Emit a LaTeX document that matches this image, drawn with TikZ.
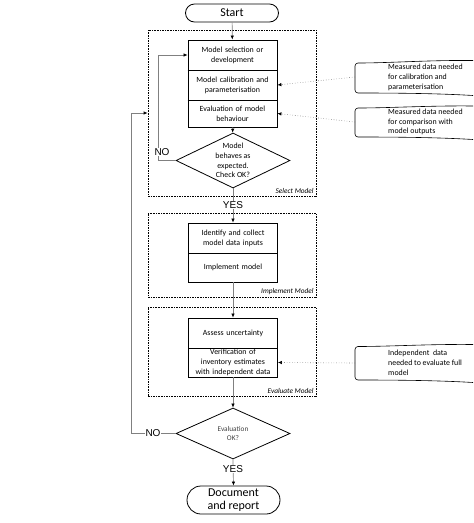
\documentclass[tikz,border=0pt]{standalone}
\usepackage{fontspec}
\setmainfont{Carlito}
\newfontfamily\arialf{Liberation Sans}
\usetikzlibrary{arrows.meta,shapes.geometric}
\begin{document}
\begin{tikzpicture}[x=1pt,y=-1pt,
  txt/.style={font=\fontsize{7.9}{9.8}\selectfont},
  proc/.style={draw, line width=0.8pt, minimum width=89pt, text width=86pt, align=center, inner sep=0pt, txt},
  term/.style={draw, line width=0.8pt, minimum width=93pt, align=center, inner sep=0pt, font=\fontsize{12}{13.5}\selectfont},
  group/.style={draw, line width=0.7pt, dash pattern=on 1.6pt off 1pt, minimum width=168pt, inner sep=0pt},
  grouplabel/.style={font=\fontsize{7.3}{8}\itshape, anchor=south east, inner sep=2.5pt},
  dia/.style={draw, line width=0.8pt, diamond, inner sep=0pt, minimum width=114pt, minimum height=52pt},
  flow/.style={draw=gray, line width=0.7pt, -{Latex[black,length=4pt,width=3.5pt]}},
  flowline/.style={draw=gray, line width=0.7pt},
  datal/.style={draw=gray, line width=0.6pt, dotted, -{Latex[black,length=4pt,width=3.5pt]}},
  yn/.style={font=\arialf\fontsize{10}{11}\selectfont, fill=white, inner sep=0.5pt},
  notebox/.style={draw, line width=0.6pt},
  notetxt/.style={txt, align=left, anchor=west, inner sep=0pt}
]
\useasboundingbox (0,0) rectangle (474,523);

% groups
\node[group, minimum height=166pt] (sel) at (232,113) {};
\node[grouplabel] (sellab) at (sel.south east) {Select Model};
\node[group, minimum height=84pt] (impl) at (232,255) {};
\node[grouplabel] (impllab) at (impl.south east) {Implement Model};
\node[group, minimum height=89pt] (eval) at (232,351.5) {};
\node[grouplabel] (evallab) at (eval.south east) {Evaluate Model};

% terminals
\node[term, minimum height=18pt, rounded corners=9pt] (start) at (232,13) {Start};
\node[term, minimum height=28pt, rounded corners=14pt] (doc) at (233.5,500) {Document\\and report};

% processes
\node[proc, minimum height=30pt] (b1) at (232.5,55) {Model selection or\\development};
\node[proc, minimum height=30pt] (b2) at (232.5,85) {Model calibration and\\parameterisation};
\node[proc, minimum height=27pt] (b3) at (232.5,113.5) {Evaluation of model\\behaviour};
\draw[line width=1.6pt] (b1.south west) -- (b1.south east);
\draw[line width=1.6pt] (b2.south west) -- (b2.south east);

\node[proc, minimum height=30pt] (id) at (233,238) {Identify and collect\\model data inputs};
\node[proc, minimum height=29pt] (im) at (233,267.5) {Implement model};
\draw[line width=1.6pt] (id.south west) -- (id.south east);

\node[proc, minimum height=30pt] (as) at (233,333) {Assess uncertainty};
\node[proc, minimum height=29pt] (ve) at (233,362.5) {Verification of\\inventory estimates\\with independent data};
\draw[line width=1.6pt] (as.south west) -- (as.south east);

% decisions
\node[dia, minimum height=55pt] (d1) at (233,160.5) {};
\node[txt, align=center, inner sep=0pt] (d1t) at (d1.center) {Model\\behaves as\\expected.\\Check OK?};
\node[dia, minimum height=51pt] (d2) at (233,433.5) {};
\node[font=\fontsize{7.3}{9.5}\selectfont, text=black!75, align=center, inner sep=0pt] (d2t) at (d2.center) {Evaluation\\OK?};

% notes
\draw[notebox] (473,60.5) .. controls (430,60) and (390,63) .. (358,63) to[out=180,in=90] (355,66) -- (355,90) to[out=-90,in=180] (358,93) .. controls (400,93) and (440,93.5) .. (473,95.5);
\coordinate (n1) at (355,77);
\node[notetxt] (n1t) at (388,77.5) {Measured data needed\\for calibration and\\parameterisation};
\draw[notebox] (473,106) .. controls (430,105.5) and (390,108) .. (358,108) to[out=180,in=90] (355,111) -- (355,134) to[out=-90,in=180] (358,137) .. controls (400,137) and (440,137.5) .. (473,139.5);
\coordinate (n2) at (355,122);
\node[notetxt] (n2t) at (388,122) {Measured data needed\\for comparison with\\model outputs};
\draw[notebox] (473,344.5) .. controls (430,344) and (390,346.5) .. (358,346.5) to[out=180,in=90] (355,349.5) -- (355,377) to[out=-90,in=180] (358,380) .. controls (400,380) and (440,380.5) .. (473,382.5);
\coordinate (n3) at (355,363);
\node[notetxt] (n3t) at (388,363) {Independent\ \ data\\needed to evaluate full\\model};

% flows
\draw[flow] (start) -- (b1);
\draw[flow] (b3) -- (d1);
\draw[flowline] (d1.west) -- (158,160.5) coordinate (c1);
\draw[flow] (c1) |- (b1.west);
\node[yn] (no1) at (162,152) {NO};
\draw[flow] (d1.south) -- (id.north);
\node[yn] (yes1) at (233,205) {YES};
\draw[flow] (im.south) -- (as.north);
\draw[flow] (ve.south) -- (d2.north);
\draw[flowline] (d2.west) -- (131,433.5) coordinate (c2);
\draw[flow] (c2) |- (sel.west);
\node[yn] (no2) at (153,433.5) {NO};
\draw[flow] (d2.south) -- (doc.north);
\node[yn] (yes2) at (233,469) {YES};

% data links
\draw[datal] (n1) -- (b2.east);
\draw[datal] (n2) -- (b3.east);
\draw[datal] (n3) -- (ve.east);
\end{tikzpicture}
\end{document}
